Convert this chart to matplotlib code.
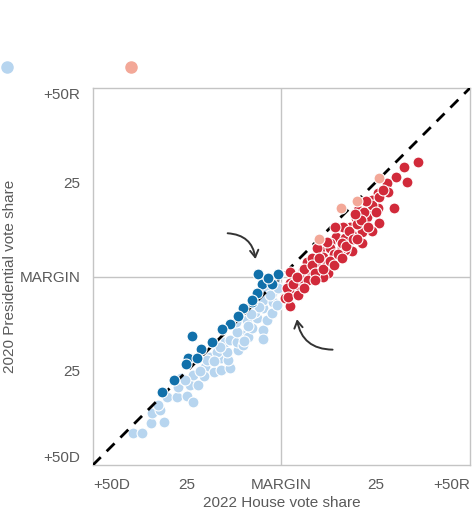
import numpy as np
import matplotlib.pyplot as plt
from matplotlib.patches import FancyArrowPatch

plt.rcParams['font.family'] = ['Liberation Sans', 'DejaVu Sans']

# margins: negative = Democratic, positive = Republican
# dark blue: Dem House winner, ran ahead of Biden
dblue_x = [-6.3, -0.8, -5.1, -2.4, -6.6, -7.7, -10.3, -11.5, -13.7, -15.7, -23.7, -18.4,
           -21.2, -24.7, -22.5, -25.4, -28.5, -31.8, -7.9, -3.5]
dblue_y = [0.7, 0.7, -2.0, -2.0, -4.3, -6.7, -8.4, -10.4, -12.6, -14.0, -15.7, -17.3,
           -19.2, -21.7, -21.7, -23.2, -27.5, -30.7, -6.2, -0.5]

# light blue: Dem House winner, ran behind Biden
lblue_x = [-39.3, -36.9, -34.6, -31.2, -34.4, -32.2, -32.7, -30.3, -27.8, -25.0, -23.4,
           -27.4, -24.3, -22.1, -26.7, -23.4, -20.3, -17.9, -16.0, -13.7, -15.9, -14.1,
           -19.0, -17.2, -14.5, -11.5, -15.0, -13.7, -11.9, -10.1, -10.3, -8.8, -7.9,
           -4.8, -5.0, -11.9, -9.2, -6.6, -3.9, -7.0, -4.8, -2.6, -4.8, -2.2, -1.3,
           -2.6, -1.7, -16.3, -19.8, -4.0, -3.0, -1.0, -6.0, -8.0, -9.0, -12.0, -10.0,
           -20.5, -18.0, -21.5, -25.5]
lblue_y = [-41.6, -41.6, -38.9, -38.5, -36.3, -35.4, -34.1, -31.9, -31.9, -31.7, -33.2,
           -29.2, -28.8, -28.8, -27.0, -26.1, -23.9, -25.3, -24.8, -24.4, -21.7, -22.1,
           -21.4, -19.9, -19.9, -19.5, -17.3, -16.8, -17.3, -18.2, -15.5, -16.0, -13.7,
           -14.2, -16.7, -14.6, -11.5, -11.1, -11.5, -9.3, -8.4, -9.8, -6.2, -6.7, -7.6,
           -4.5, -1.8, -18.6, -22.1, -3.0, -5.0, -3.0, -8.0, -10.0, -13.0, -12.0, -17.0,
           -26.5, -22.5, -25.0, -27.5]

# red: Rep House winner, ran behind Trump
red_x = [36.3, 32.6, 30.3, 33.4, 27.9, 25.7, 28.3, 29.8, 25.9, 24.1, 23.9, 25.7, 23.5,
         22.6, 20.4, 19.9, 21.3, 18.2, 16.2, 18.6, 21.3, 18.6, 16.8, 14.6, 12.9, 12.4,
         10.2, 11.1, 9.3, 12.4, 12.4, 8.4, 5.8, 2.3, 4.7, 0.9, 2.3, 2.3, 4.9, 2.4, 4.9,
         7.6, 11.1, 6.7, 8.0, 12.0, 14.6, 16.0, 12.9, 12.0, 16.8, 16.4, 14.2, 9.3, 1.4,
         1.8, 4.5, 6.0, 8.0, 10.0, 14.0, 16.0, 18.0, 20.0, 22.0, 24.0, 7.0, 9.0, 11.0,
         13.0, 15.0, 17.0, 19.0, 3.0, 4.0, 6.0, 9.0, 14.0, 16.0, 20.0, 21.0, 23.0, 25.0,
         26.0, 27.0, 19.5, 22.5]
red_y = [30.3, 29.1, 26.3, 25.0, 24.9, 22.1, 22.3, 18.1, 14.1, 12.2, 20.3, 18.1, 18.1,
         15.9, 17.6, 15.4, 11.9, 13.2, 13.2, 11.0, 8.8, 6.8, 7.0, 10.6, 8.8, 7.9,
         7.0, 5.3, 3.5, 3.5, 0.8, 0.8, 1.7, 1.3, 0.0, -5.8, -7.8, -1.8, -2.7, -4.5, -0.5,
         0.8, -0.1, 3.9, 4.8, 3.5, 5.7, 7.5, 7.5, 9.2, 10.1, 13.2, 13.2, 7.5, -3.1,
         -5.4, -4.9, 2.0, 3.0, 5.0, 6.0, 9.0, 12.0, 14.0, 17.0, 19.0, -1.0, 1.0, 2.0,
         4.0, 6.0, 8.0, 10.0, -2.0, 0.0, -3.0, -1.0, 3.0, 5.0, 10.0, 15.0, 13.0, 17.0,
         21.0, 23.0, 16.5, 20.0]

# salmon: Rep House winner, ran ahead of Trump
salmon_x = [25.9, 20.1, 15.8, 10.0]
salmon_y = [26.0, 20.1, 18.1, 9.9]

ticks = [-50, -25, 0, 25, 50]
xlabels = ['+50D', '25', 'MARGIN', '25', '+50R']
ylabels = ['+50D', '25', 'MARGIN', '25', '+50R']

fig = plt.figure(figsize=(4.74, 5.18), dpi=100)
ax = fig.add_axes([0.196, 0.1023, 0.7955, 0.7278])

grey = '#c4c4c4'
txt = '#5a5a5a'
ax.axhline(0, color=grey, lw=1, zorder=0)
ax.axvline(0, color=grey, lw=1, zorder=0)

kw = dict(s=62, edgecolors='white', linewidths=0.8)
ax.scatter(lblue_x, lblue_y, color='#b7d5ef', zorder=2, **kw)
ax.plot([-50, 50], [-50, 50], color='black', lw=2, dashes=(4, 3), zorder=3)
ax.scatter(dblue_x, dblue_y, color='#1170aa', zorder=4, **kw)
ax.scatter(red_x, red_y, color='#d12a3a', zorder=4, **kw)
ax.scatter(salmon_x, salmon_y, color='#f3a898', zorder=4, **kw)

ax.set_xlim(-50, 50)
ax.set_ylim(-50, 50)
ax.set_xticks(ticks)
ax.set_yticks(ticks)
ax.set_xticklabels(xlabels)
ax.set_yticklabels(ylabels)
ax.tick_params(length=0, labelsize=11, labelcolor=txt, pad=9)
xt = ax.get_xticklabels()
xt[0].set_ha('left')
xt[-1].set_ha('right')
yt = ax.get_yticklabels()
yt[0].set_va('bottom')
yt[-1].set_va('top')
for s in ax.spines.values():
    s.set_color(grey)
    s.set_linewidth(1)

ax.set_xlabel('2022 House vote share', fontsize=11, color=txt, labelpad=3)
ax.set_ylabel('2020 Presidential vote share', fontsize=11, color=txt)
ax.yaxis.set_label_coords(-0.20, 0.5)

# annotation arrows
a1 = FancyArrowPatch((-15.0, 11.5), (-6.8, 3.9), connectionstyle='arc3,rad=-0.45',
                     arrowstyle='->,head_length=5,head_width=3', color='#333333', lw=1.4)
a2 = FancyArrowPatch((14.3, -19.4), (4.0, -10.6), connectionstyle='arc3,rad=-0.45',
                     arrowstyle='->,head_length=5,head_width=3', color='#333333', lw=1.4)
ax.add_patch(a1)
ax.add_patch(a2)

# legend dots
fig.add_artist(plt.Line2D([0.0148], [0.8707], marker='o', ms=8, color='#b7d5ef', lw=0))
fig.add_artist(plt.Line2D([0.2764], [0.8707], marker='o', ms=8, color='#f3a898', lw=0))

fig.savefig('out.png', dpi=100)
